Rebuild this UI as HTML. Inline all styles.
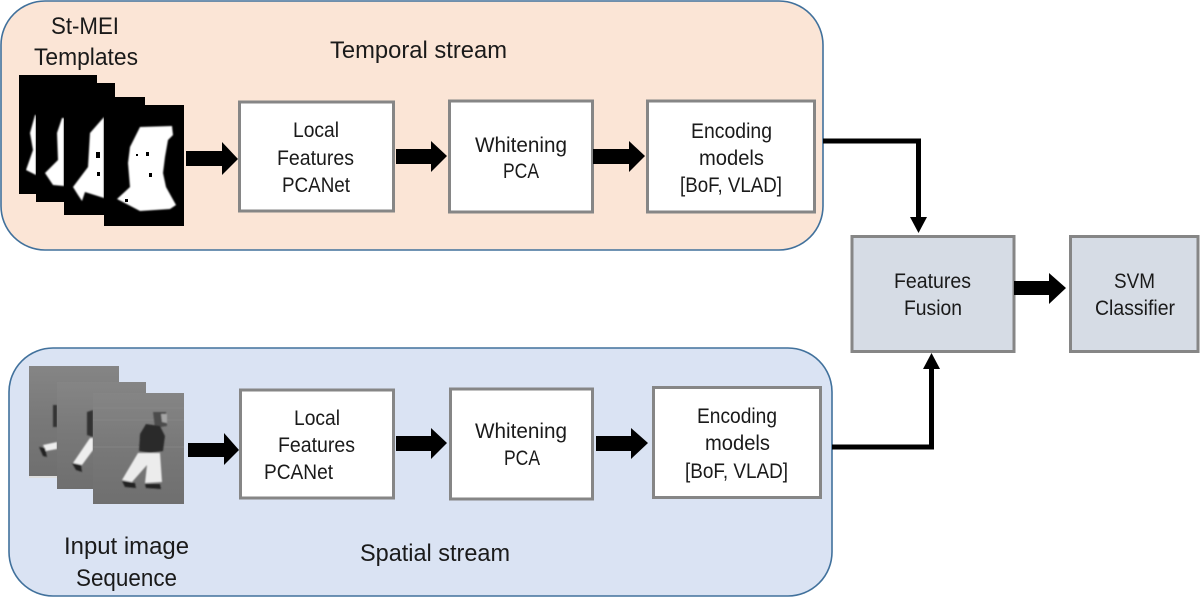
<!DOCTYPE html>
<html>
<head>
<meta charset="utf-8">
<style>
html,body{margin:0;padding:0;background:#fff;}
svg{display:block;}
text{font-family:"Liberation Sans",sans-serif;font-size:21px;fill:#1a1a1a;}
.big{font-size:24px;}
.box{fill:#fff;stroke:#868686;stroke-width:3;}
.gbox{fill:#d6dce5;stroke:#868686;stroke-width:3;}
</style>
</head>
<body>
<svg width="1200" height="598" viewBox="0 0 1200 598" xmlns="http://www.w3.org/2000/svg">
<defs>
<filter id="b" x="-5%" y="-5%" width="110%" height="110%"><feGaussianBlur stdDeviation="0.7"/></filter>
<linearGradient id="g" x1="0" y1="0" x2="0" y2="1"><stop offset="0" stop-color="#858585"/><stop offset="0.5" stop-color="#787878"/><stop offset="1" stop-color="#6f6f6f"/></linearGradient>
</defs>
<rect width="1200" height="598" fill="#fff"/>
<rect x="1" y="1" width="822" height="249" rx="44" fill="#fbe5d6" stroke="#41719c" stroke-width="1.6"/>
<rect x="9" y="348" width="823" height="248" rx="44" fill="#dae3f3" stroke="#41719c" stroke-width="1.6"/>

<!-- templates -->
<rect x="19" y="75" width="78" height="119" fill="#000"/>
<polygon points="35,115 30,133 33,150 26,170 36,175 36,115" fill="#fff" filter="url(#b)"/>
<rect x="36" y="83" width="79" height="119" fill="#000"/>
<polygon points="62,118 57,133 58,160 45,173 53,185 64,186 64,118" fill="#fff" filter="url(#b)"/>
<rect x="64" y="97" width="81" height="118" fill="#000"/>
<polygon points="104,117 90,133 88,167 73,187 78,195 82,201 85,192 104,198" fill="#fff" filter="url(#b)"/>
<rect x="96" y="152" width="4" height="6" fill="#000"/><rect x="97" y="172" width="3" height="4" fill="#000"/>
<rect x="104" y="105" width="80" height="121" fill="#000"/>
<polygon points="140,127 172,126 173,135 168,140 165,157 163,173 166,187 176,205 170,209 140,211 117,199 130,187 128,163 130,147" fill="#fff" filter="url(#b)"/>
<rect x="146" y="152" width="3" height="4" fill="#000"/><rect x="149" y="173" width="3" height="4" fill="#000"/><rect x="125" y="199" width="3" height="3" fill="#000"/><rect x="136" y="154" width="2" height="2" fill="#000"/>

<!-- photos -->
<rect x="29" y="366" width="90" height="110" fill="url(#g)"/>
<rect x="29" y="476" width="28" height="2" fill="#ddd"/>
<g filter="url(#b)">
<polygon points="53,405 57,405 57,427 53,427" fill="#333"/>
<polygon points="43,445 57,442 57,449 46,451" fill="#eee"/>
<polygon points="39,447 45,448 47,457 43,456" fill="#222"/>
</g>
<rect x="57" y="382" width="89" height="107" fill="url(#g)"/>
<g filter="url(#b)">
<polygon points="87,412 93,410 93,437 87,435" fill="#333"/>
<polygon points="90,438 93,438 93,450 82,465 73,463" fill="#eee"/>
<polygon points="72,463 81,465 82,472 76,470" fill="#222"/>
</g>
<rect x="93" y="393" width="91" height="111" fill="url(#g)"/>
<g stroke="#8b8b8b" stroke-width="1" opacity=".6">
<line x1="93" y1="408" x2="184" y2="408"/><line x1="93" y1="420" x2="184" y2="420"/><line x1="93" y1="447" x2="184" y2="447"/>
</g>
<g filter="url(#b)">
<polygon points="153,412 166,412 167,426 155,428" fill="#4c4c4c"/>
<polygon points="161,414 167,414 167,423 162,422" fill="#a5a5a5"/>
<polygon points="146,424 160,426 165,436 163,451 150,453 139,451 140,434" fill="#2b2b2b"/>
<polygon points="138,453 160,453 162,482 145,483 147,465 132,482 122,480" fill="#ececec"/>
<polygon points="122,481 135,483 136,488 125,487" fill="#222"/>
<polygon points="145,484 160,484 161,489 146,488" fill="#222"/>
</g>

<!-- boxes -->
<rect class="box" x="239.500" y="102" width="154" height="109"/>
<rect class="box" x="449.500" y="101" width="143" height="111"/>
<rect class="box" x="647.500" y="101" width="167" height="111"/>
<rect class="box" x="240.500" y="390" width="153" height="108"/>
<rect class="box" x="450.500" y="389" width="142" height="110"/>
<rect class="box" x="653.500" y="387.500" width="167" height="110"/>
<rect class="gbox" x="852" y="236.500" width="162" height="115"/>
<rect class="gbox" x="1070.500" y="236.500" width="127.500" height="115"/>

<!-- fat arrows -->
<g fill="#000">
<polygon points="186,151 222,151 222,142 238,159 222,175 222,166 186,166"/>
<polygon points="396,149 431,149 431,141 447,156 431,172 431,164 396,164"/>
<polygon points="593,149 629,149 629,141 645,156 629,172 629,164 593,164"/>
<polygon points="188,443 224,443 224,433 239,450 224,465 224,457 188,457"/>
<polygon points="396,436 431,436 431,428 447,443 431,459 431,451 396,451"/>
<polygon points="596,436 631,436 631,428 648,443 631,459 631,451 596,451"/>
<polygon points="1014,281 1049,281 1049,273 1066,288 1049,304 1049,295 1014,295"/>
<polygon points="910,217 927,217 918.500,233"/>
<polygon points="923,369 940,369 931.500,353"/>
</g>
<polyline points="823,141 918.500,141 918.500,218" fill="none" stroke="#000" stroke-width="5"/>
<polyline points="832,447 931.500,447 931.500,368" fill="none" stroke="#000" stroke-width="5"/>

<!-- labels -->
<text class="big" x="51" y="34" textLength="68" lengthAdjust="spacingAndGlyphs">St-MEI</text>
<text class="big" x="34" y="65" textLength="104" lengthAdjust="spacingAndGlyphs">Templates</text>
<text class="big" x="330" y="58" textLength="177" lengthAdjust="spacingAndGlyphs">Temporal stream</text>
<text class="big" x="360" y="561" textLength="150" lengthAdjust="spacingAndGlyphs">Spatial stream</text>
<text class="big" x="64" y="554" textLength="125" lengthAdjust="spacingAndGlyphs">Input image</text>
<text class="big" x="76" y="586" textLength="101" lengthAdjust="spacingAndGlyphs">Sequence</text>

<text x="293" y="137" textLength="46" lengthAdjust="spacingAndGlyphs">Local</text>
<text x="277" y="165" textLength="77" lengthAdjust="spacingAndGlyphs">Features</text>
<text x="282" y="192" textLength="68" lengthAdjust="spacingAndGlyphs">PCANet</text>
<text x="475" y="152" textLength="92" lengthAdjust="spacingAndGlyphs">Whitening</text>
<text x="503" y="178" textLength="36" lengthAdjust="spacingAndGlyphs">PCA</text>
<text x="691" y="138" textLength="81" lengthAdjust="spacingAndGlyphs">Encoding</text>
<text x="699" y="165" textLength="65" lengthAdjust="spacingAndGlyphs">models</text>
<text x="680" y="192" textLength="102" lengthAdjust="spacingAndGlyphs">[BoF, VLAD]</text>

<text x="294" y="425" textLength="46" lengthAdjust="spacingAndGlyphs">Local</text>
<text x="278" y="452" textLength="77" lengthAdjust="spacingAndGlyphs">Features</text>
<text x="264" y="479" textLength="69" lengthAdjust="spacingAndGlyphs">PCANet</text>
<text x="475" y="438" textLength="92" lengthAdjust="spacingAndGlyphs">Whitening</text>
<text x="504" y="465" textLength="36" lengthAdjust="spacingAndGlyphs">PCA</text>
<text x="697" y="423" textLength="80" lengthAdjust="spacingAndGlyphs">Encoding</text>
<text x="705" y="450" textLength="65" lengthAdjust="spacingAndGlyphs">models</text>
<text x="685" y="478" textLength="103" lengthAdjust="spacingAndGlyphs">[BoF, VLAD]</text>

<text x="894" y="288" textLength="77" lengthAdjust="spacingAndGlyphs">Features</text>
<text x="904" y="315" textLength="58" lengthAdjust="spacingAndGlyphs">Fusion</text>
<text x="1114" y="288" textLength="41" lengthAdjust="spacingAndGlyphs">SVM</text>
<text x="1095" y="315" textLength="80" lengthAdjust="spacingAndGlyphs">Classifier</text>
</svg>
</body>
</html>
